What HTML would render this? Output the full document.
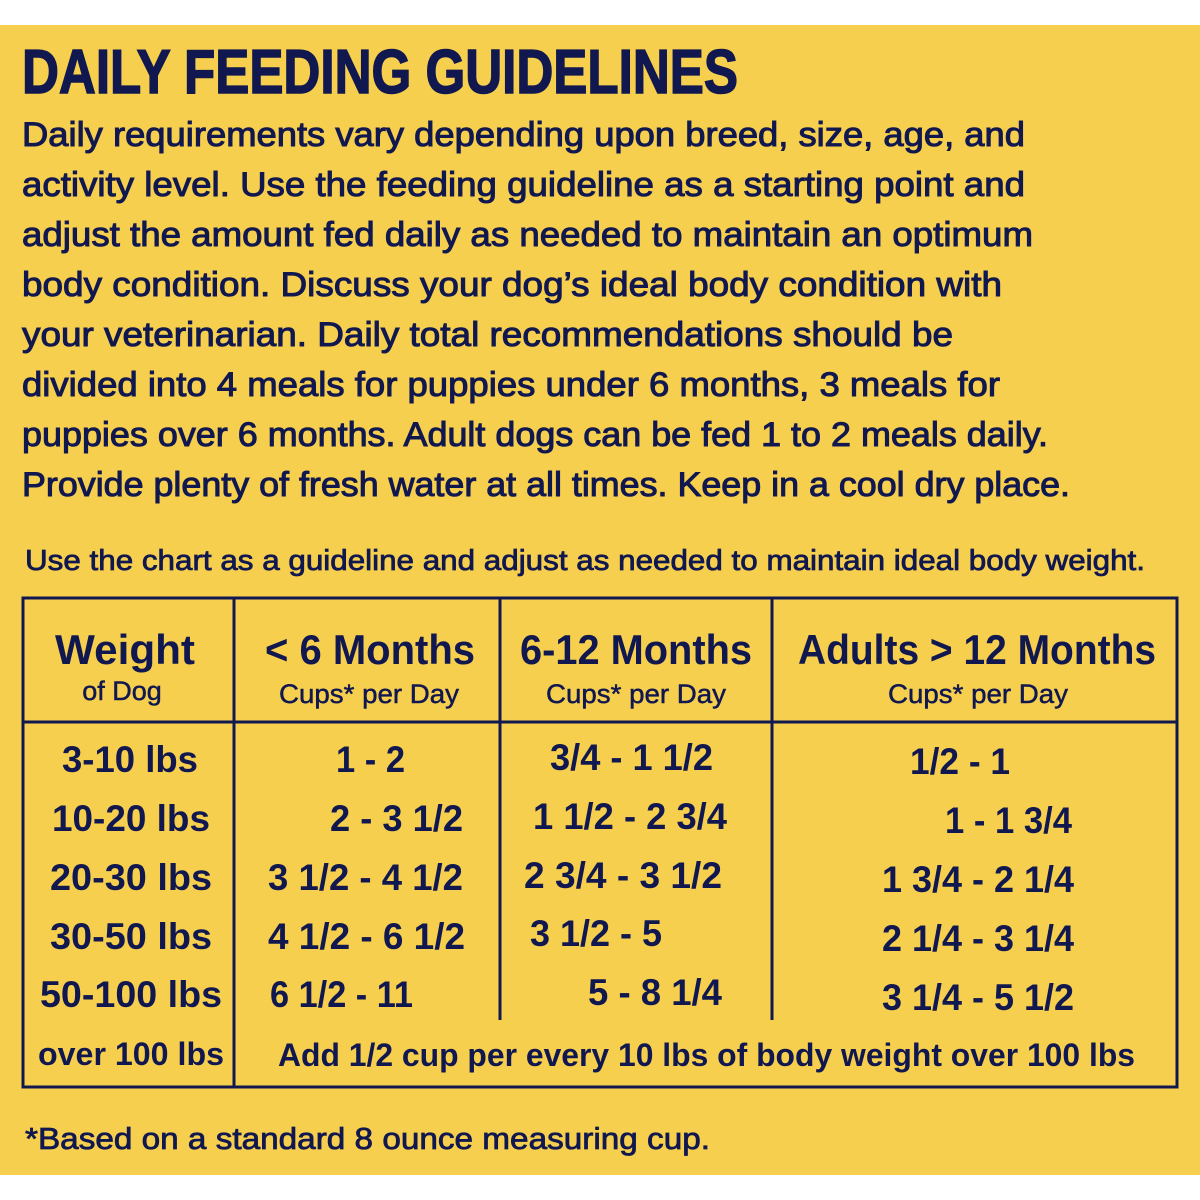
<!DOCTYPE html>
<html><head><meta charset="utf-8"><style>
html,body{margin:0;padding:0;background:#fff;}
svg{display:block;}
text{font-family:"Liberation Sans",sans-serif;fill:#10184f;}
</style></head><body>
<svg width="1200" height="1200" viewBox="0 0 1200 1200" xmlns="http://www.w3.org/2000/svg">
<rect x="0" y="25" width="1200" height="1150" fill="#f7cf4f"/>
<text x="22" y="93" font-size="62" font-weight="bold" stroke="#10184f" stroke-width="1.5" textLength="716" lengthAdjust="spacingAndGlyphs">DAILY FEEDING GUIDELINES</text>
<g font-size="34" stroke="#10184f" stroke-width="1">
<text x="22" y="146" textLength="1003" lengthAdjust="spacingAndGlyphs">Daily requirements vary depending upon breed, size, age, and</text>
<text x="22" y="196" textLength="1003" lengthAdjust="spacingAndGlyphs">activity level. Use the feeding guideline as a starting point and</text>
<text x="22" y="246" textLength="1011" lengthAdjust="spacingAndGlyphs">adjust the amount fed daily as needed to maintain an optimum</text>
<text x="22" y="296" textLength="980" lengthAdjust="spacingAndGlyphs">body condition. Discuss your dog’s ideal body condition with</text>
<text x="22" y="346" textLength="931" lengthAdjust="spacingAndGlyphs">your veterinarian. Daily total recommendations should be</text>
<text x="22" y="396" textLength="978" lengthAdjust="spacingAndGlyphs">divided into 4 meals for puppies under 6 months, 3 meals for</text>
<text x="22" y="446" textLength="1026" lengthAdjust="spacingAndGlyphs">puppies over 6 months. Adult dogs can be fed 1 to 2 meals daily.</text>
<text x="22" y="496" textLength="1048" lengthAdjust="spacingAndGlyphs">Provide plenty of fresh water at all times. Keep in a cool dry place.</text>
</g>
<text x="25" y="570" font-size="29" stroke="#10184f" stroke-width="0.8" textLength="1120" lengthAdjust="spacingAndGlyphs">Use the chart as a guideline and adjust as needed to maintain ideal body weight.</text>
<g stroke="#10184f" stroke-width="3" fill="none">
<rect x="23" y="598" width="1154" height="489"/>
<line x1="23" y1="722" x2="1177" y2="722"/>
<line x1="234" y1="598" x2="234" y2="1087"/>
<line x1="500" y1="598" x2="500" y2="1020"/>
<line x1="772" y1="598" x2="772" y2="1020"/>
</g>
<g font-weight="bold" font-size="42">
<text x="55" y="664" textLength="140" lengthAdjust="spacingAndGlyphs">Weight</text>
<text x="265" y="664" textLength="210" lengthAdjust="spacingAndGlyphs">&lt; 6 Months</text>
<text x="520" y="664" textLength="232" lengthAdjust="spacingAndGlyphs">6-12 Months</text>
<text x="798" y="664" textLength="358" lengthAdjust="spacingAndGlyphs">Adults &gt; 12 Months</text>
</g>
<g font-size="27" text-anchor="middle" stroke="#10184f" stroke-width="0.5">
<text x="122" y="700">of Dog</text>
<text x="369" y="703" textLength="180" lengthAdjust="spacingAndGlyphs">Cups* per Day</text>
<text x="636" y="703" textLength="180" lengthAdjust="spacingAndGlyphs">Cups* per Day</text>
<text x="978" y="703" textLength="180" lengthAdjust="spacingAndGlyphs">Cups* per Day</text>
</g>
<g font-weight="bold" font-size="37">
<text x="62" y="772" textLength="136" lengthAdjust="spacingAndGlyphs">3-10 lbs</text>
<text x="52" y="831" textLength="158" lengthAdjust="spacingAndGlyphs">10-20 lbs</text>
<text x="50" y="890" textLength="162" lengthAdjust="spacingAndGlyphs">20-30 lbs</text>
<text x="50" y="949" textLength="162" lengthAdjust="spacingAndGlyphs">30-50 lbs</text>
<text x="40" y="1007" textLength="182" lengthAdjust="spacingAndGlyphs">50-100 lbs</text>

<text x="336" y="772" textLength="69" lengthAdjust="spacingAndGlyphs">1 - 2</text>
<text x="330" y="831" textLength="133" lengthAdjust="spacingAndGlyphs">2 - 3 1/2</text>
<text x="268" y="890" textLength="195" lengthAdjust="spacingAndGlyphs">3 1/2 - 4 1/2</text>
<text x="268" y="949" textLength="197" lengthAdjust="spacingAndGlyphs">4 1/2 - 6 1/2</text>
<text x="270" y="1007" textLength="143" lengthAdjust="spacingAndGlyphs">6 1/2 - 11</text>

<text x="550" y="770" textLength="163" lengthAdjust="spacingAndGlyphs">3/4 - 1 1/2</text>
<text x="533" y="829" textLength="194" lengthAdjust="spacingAndGlyphs">1 1/2 - 2 3/4</text>
<text x="524" y="888" textLength="198" lengthAdjust="spacingAndGlyphs">2 3/4 - 3 1/2</text>
<text x="530" y="946" textLength="132" lengthAdjust="spacingAndGlyphs">3 1/2 - 5</text>
<text x="588" y="1005" textLength="134" lengthAdjust="spacingAndGlyphs">5 - 8 1/4</text>

<text x="910" y="774" textLength="100" lengthAdjust="spacingAndGlyphs">1/2 - 1</text>
<text x="945" y="833" textLength="127" lengthAdjust="spacingAndGlyphs">1 - 1 3/4</text>
<text x="882" y="892" textLength="192" lengthAdjust="spacingAndGlyphs">1 3/4 - 2 1/4</text>
<text x="882" y="951" textLength="192" lengthAdjust="spacingAndGlyphs">2 1/4 - 3 1/4</text>
<text x="882" y="1010" textLength="192" lengthAdjust="spacingAndGlyphs">3 1/4 - 5 1/2</text>
</g>
<g font-weight="bold" font-size="32">
<text x="38" y="1065" textLength="186" lengthAdjust="spacingAndGlyphs">over 100 lbs</text>
<text x="278" y="1066" textLength="857" lengthAdjust="spacingAndGlyphs">Add 1/2 cup per every 10 lbs of body weight over 100 lbs</text>
</g>
<text x="25" y="1149" font-size="31" stroke="#10184f" stroke-width="0.8" textLength="685" lengthAdjust="spacingAndGlyphs">*Based on a standard 8 ounce measuring cup.</text>
</svg>
</body></html>
